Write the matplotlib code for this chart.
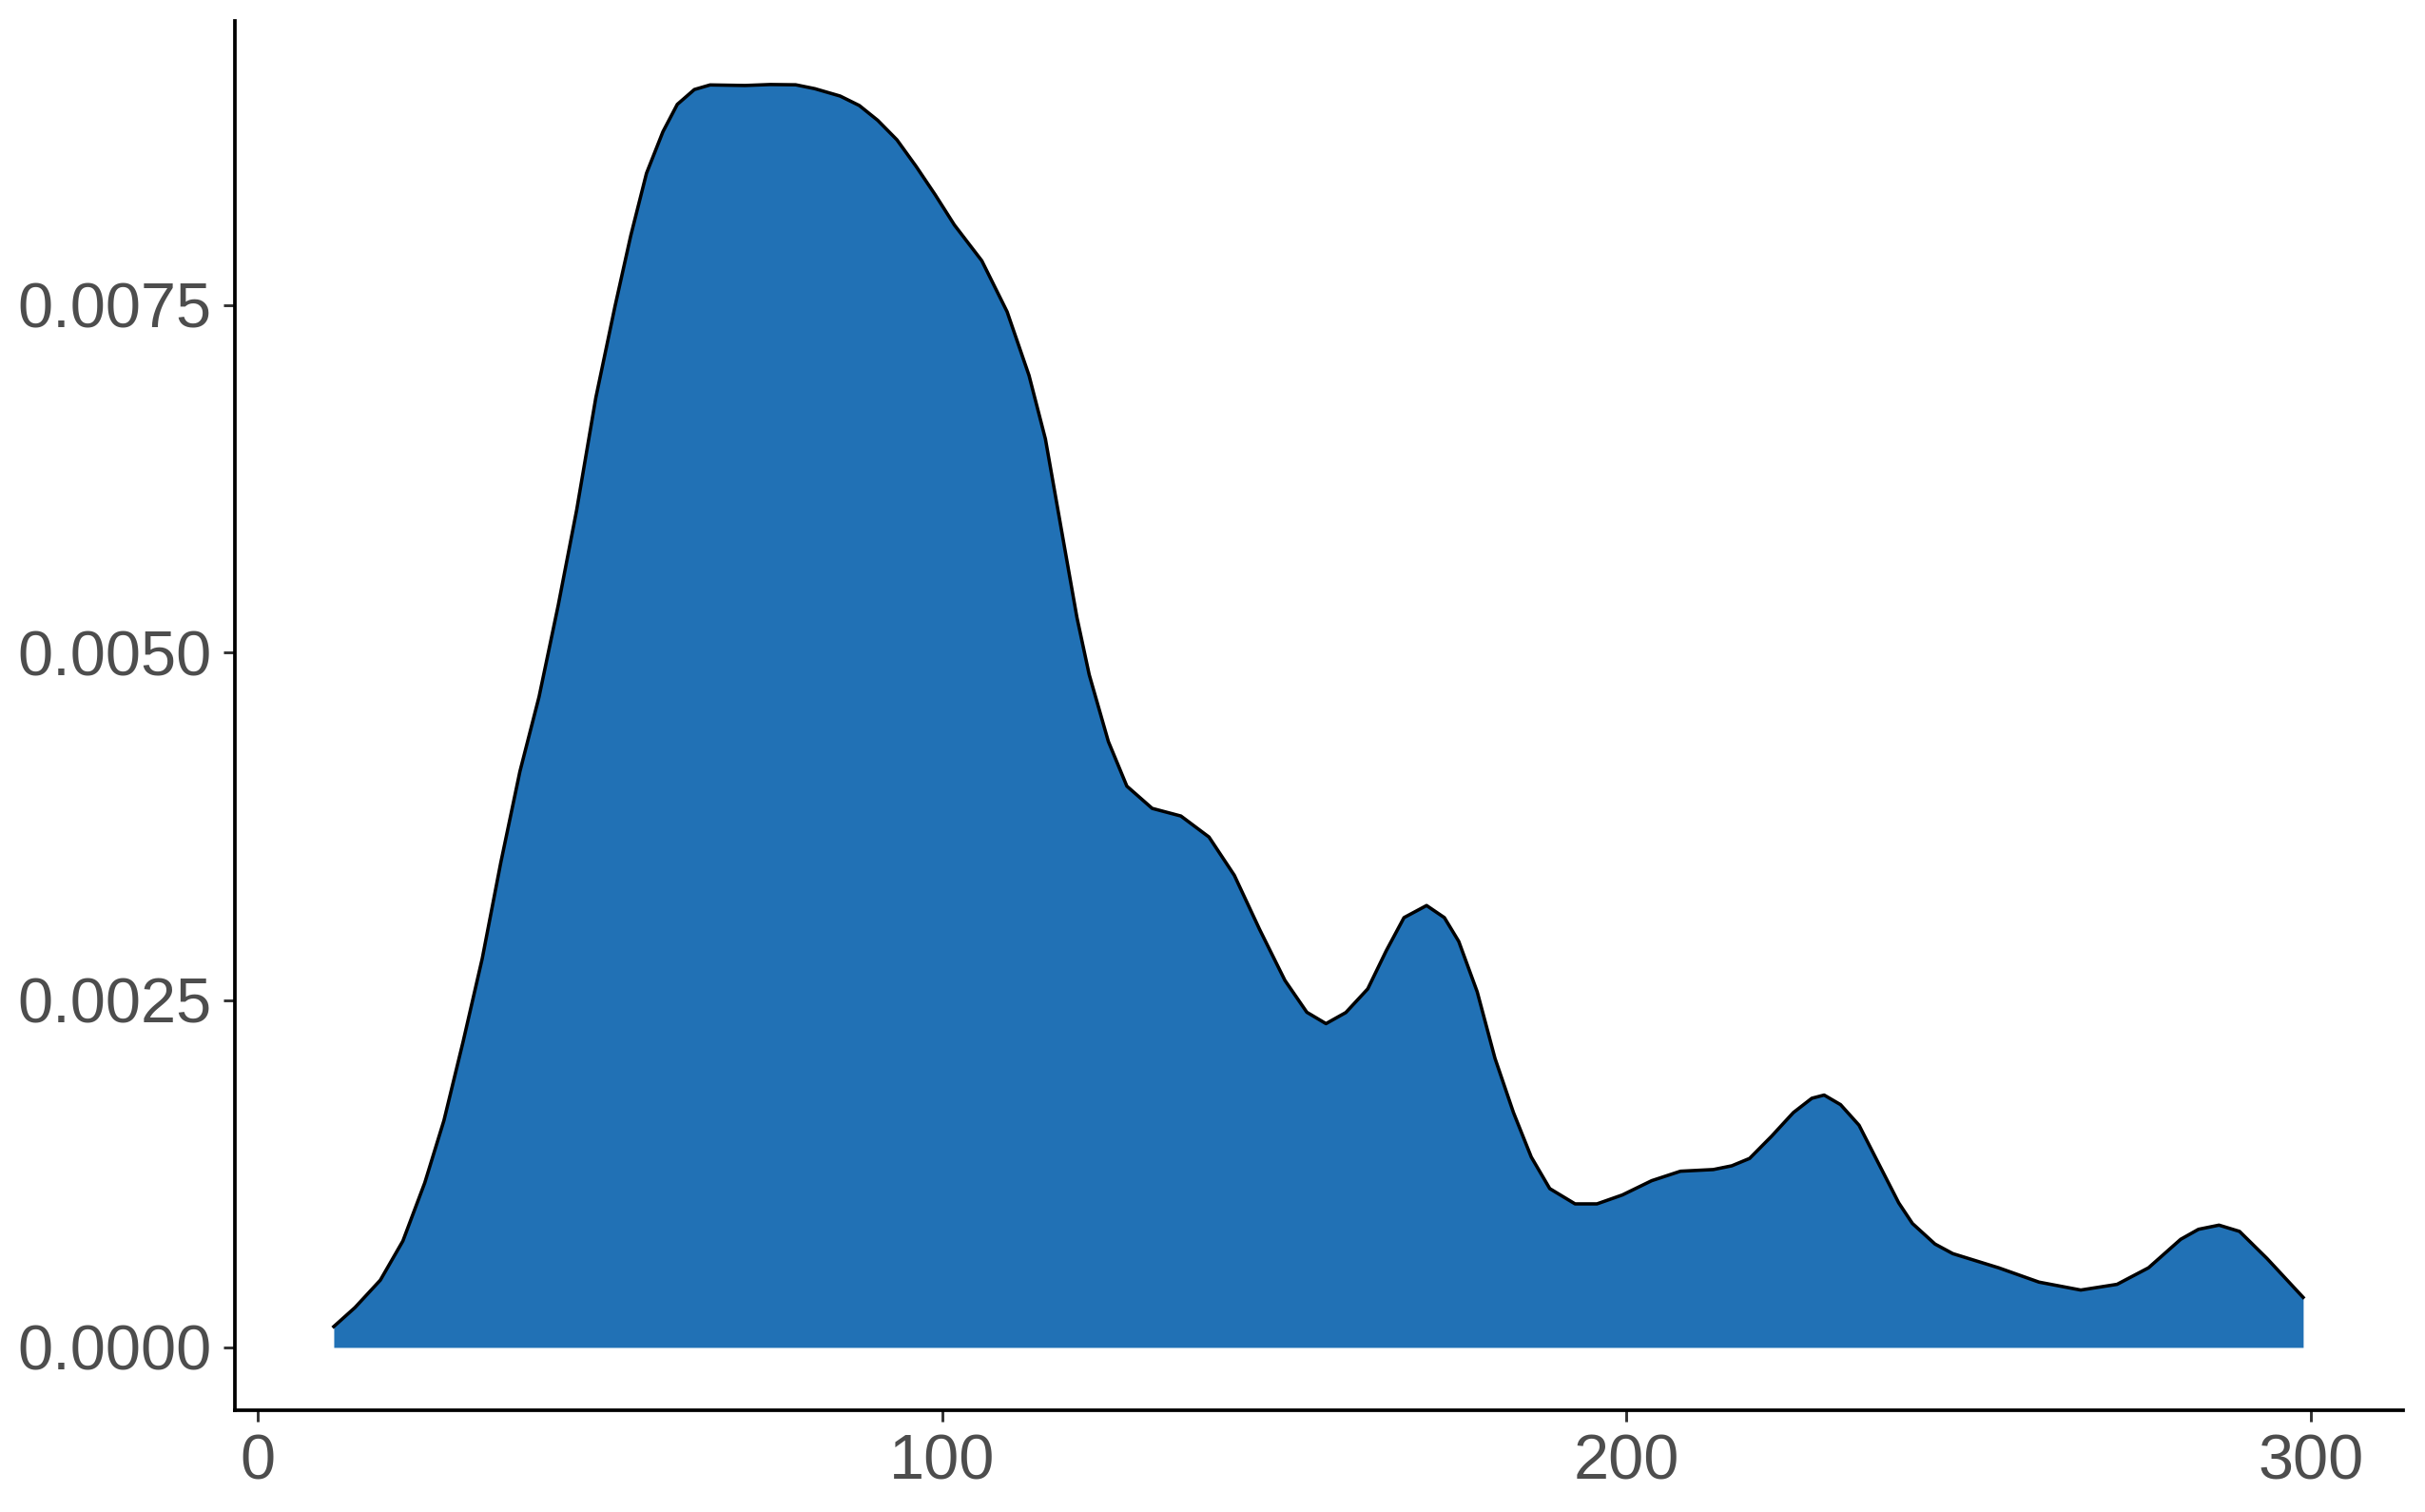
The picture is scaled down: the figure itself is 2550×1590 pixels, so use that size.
import numpy as np
import matplotlib
matplotlib.use("Agg")
import matplotlib.pyplot as plt

# density curve
x_vals = [11.1, 14.2, 17.9, 21.2, 24.4, 27.2, 30.0, 32.8, 35.5, 38.3, 41.1, 43.9,
          46.6, 49.4, 52.2, 54.5, 56.8, 59.2, 61.3, 63.8, 66.1, 71.2, 74.9, 78.6,
          81.4, 85.1, 87.9, 90.6, 93.4, 96.2, 99.0, 101.8, 105.8, 109.5, 112.7,
          115.1, 117.4, 119.7, 121.5, 124.3, 127.0, 130.7, 134.9, 139.0, 142.7,
          146.4, 150.1, 153.3, 156.1, 159.0, 162.2, 164.9, 167.5, 170.8, 173.4,
          175.5, 178.2, 180.8, 183.5, 186.1, 188.8, 192.5, 195.7, 199.4, 203.7,
          207.9, 212.7, 215.4, 218.0, 221.2, 224.4, 227.1, 228.9, 231.3, 234.0,
          236.6, 239.8, 241.8, 245.1, 247.7, 254.4, 260.3, 266.4, 271.7, 276.3,
          281.0, 283.6, 286.6, 289.6, 293.6, 298.9]
density = [0.00015, 0.000287, 0.000484, 0.000766, 0.001185, 0.001633, 0.0022,
           0.002799, 0.003487, 0.004144, 0.004682, 0.00534, 0.006027, 0.006835,
           0.007492, 0.008, 0.008449, 0.008748, 0.008945, 0.009052, 0.009085,
           0.009081, 0.009088, 0.009086, 0.009058, 0.009005, 0.008937, 0.00883,
           0.00869, 0.008499, 0.008294, 0.008077, 0.00782, 0.007453, 0.006995,
           0.006537, 0.005895, 0.005254, 0.004841, 0.00436, 0.004039, 0.003879,
           0.003824, 0.003673, 0.003398, 0.003008, 0.002641, 0.002412, 0.00233,
           0.00241, 0.00258, 0.002854, 0.003093, 0.00318, 0.003093, 0.002922,
           0.002559, 0.00208, 0.00169, 0.00137, 0.001143, 0.001033, 0.001033,
           0.001097, 0.0012, 0.001268, 0.00128, 0.001307, 0.00136, 0.001519,
           0.00169, 0.001793, 0.001816, 0.001747, 0.001599, 0.001348, 0.00104,
           0.000892, 0.000744, 0.000675, 0.000573, 0.00047, 0.000413, 0.000454,
           0.000573, 0.000778, 0.00085, 0.00088, 0.000835, 0.000641, 0.00036]
x_ticks = [0, 100, 200, 300]
y_ticks = [0.0, 0.0025, 0.005, 0.0075]
y_labels = ["0.0000", "0.0025", "0.0050", "0.0075"]

plt.rcParams['font.family'] = ['Liberation Sans', 'DejaVu Sans']

fig = plt.figure(figsize=(8.5, 5.3), dpi=300)
ax = fig.add_axes([0.0969, 0.0673, 0.894, 0.9189])

x = np.array(x_vals)
y = np.array(density)
ax.fill_between(x, 0, y, color='#2171B5', linewidth=0)
ax.plot(x, y, color='black', linewidth=0.85, solid_joinstyle='round')

ax.set_xlim(-3.335, 313.48)
ax.set_ylim(-0.000452, 0.009546)
ax.set_xticks(x_ticks)
ax.set_yticks(y_ticks)
ax.set_yticklabels(y_labels)

for side in ['top', 'right']:
    ax.spines[side].set_visible(False)
for side in ['left', 'bottom']:
    ax.spines[side].set_linewidth(0.9)
    ax.spines[side].set_color('black')

ax.tick_params(axis='both', length=2.9, width=0.7, color='#333333',
               labelsize=16, labelcolor='#4D4D4D', pad=2.9)

fig.savefig('out.png', dpi=300, facecolor='white')
